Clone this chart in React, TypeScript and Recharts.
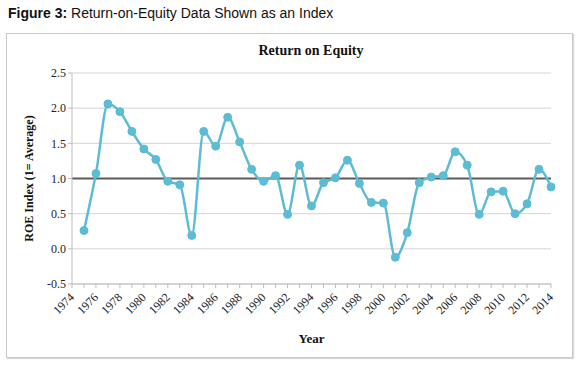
import React from "react";
import {
  LineChart,
  Line,
  XAxis,
  YAxis,
  CartesianGrid,
  ReferenceLine,
} from "recharts";

// ROE index by year (1 = average)
const years = [
  1975, 1976, 1977, 1978, 1979, 1980, 1981, 1982, 1983, 1984, 1985, 1986, 1987,
  1988, 1989, 1990, 1991, 1992, 1993, 1994, 1995, 1996, 1997, 1998, 1999, 2000,
  2001, 2002, 2003, 2004, 2005, 2006, 2007, 2008, 2009, 2010, 2011, 2012, 2013,
  2014,
];
const roeIndex = [
  0.26, 1.07, 2.06, 1.95, 1.67, 1.42, 1.27, 0.96, 0.91, 0.19, 1.67, 1.46, 1.87,
  1.52, 1.13, 0.96, 1.04, 0.49, 1.19, 0.61, 0.94, 1.01, 1.26, 0.93, 0.66, 0.65,
  -0.12, 0.23, 0.94, 1.02, 1.04, 1.38, 1.19, 0.49, 0.81, 0.82, 0.5, 0.64, 1.13,
  0.88,
];
const yearTicks = [
  1974, 1975, 1976, 1977, 1978, 1979, 1980, 1981, 1982, 1983, 1984, 1985, 1986,
  1987, 1988, 1989, 1990, 1991, 1992, 1993, 1994, 1995, 1996, 1997, 1998, 1999,
  2000, 2001, 2002, 2003, 2004, 2005, 2006, 2007, 2008, 2009, 2010, 2011, 2012,
  2013, 2014,
];
const indexTicks = [-0.5, 0, 0.5, 1, 1.5, 2, 2.5];

const data = years.map((year, i) => ({ year, roe: roeIndex[i] }));

const SERIF = '"Liberation Serif", "DejaVu Serif", serif';
const LINE_COLOR = "#5bbcd4";

const YearTick = (props: any) => {
  const { x, y, payload } = props;
  if (payload.value % 2 !== 0) return null;
  return (
    <text
      x={x + 3}
      y={y + 8}
      transform={`rotate(-45, ${x + 3}, ${y + 8})`}
      textAnchor="end"
      fontFamily={SERIF}
      fontSize={12}
      fill="#222"
    >
      {payload.value}
    </text>
  );
};

export default function App() {
  return (
    <div
      style={{
        position: "absolute",
        left: 0,
        top: 0,
        width: 580,
        height: 367,
        background: "#fff",
      }}
    >
      <div
        style={{
          position: "absolute",
          left: 8,
          top: 5,
          fontFamily: '"Liberation Sans", Arial, sans-serif',
          fontSize: 14,
          color: "#111",
        }}
      >
        <b>Figure 3:</b> Return-on-Equity Data Shown as an Index
      </div>
      <div
        style={{
          position: "absolute",
          left: 6,
          top: 33,
          width: 565,
          height: 323,
          border: "1px solid #c8c8c8",
          boxShadow: "1px 1px 1px #d8d8d8",
        }}
      />
      <div style={{ position: "absolute", left: 0, top: 0 }}>
        <LineChart
          width={580}
          height={367}
          data={data}
          margin={{ top: 73, right: 29, bottom: 23, left: 12 }}
        >
          <text
            x={311}
            y={55}
            textAnchor="middle"
            fontFamily={SERIF}
            fontSize={14}
            fontWeight="bold"
            fill="#111"
          >
            Return on Equity
          </text>
          <CartesianGrid vertical={false} stroke="#d4d4d4" strokeWidth={1} />
          <XAxis
            dataKey="year"
            type="number"
            domain={[1974, 2014]}
            ticks={yearTicks}
            interval={0}
            height={60}
            tick={<YearTick />}
            tickSize={4}
            axisLine={{ stroke: "#bdbdbd" }}
            tickLine={{ stroke: "#bdbdbd" }}
            label={{
              value: "Year",
              position: "insideBottom",
              offset: 1,
              style: {
                fontFamily: SERIF,
                fontSize: 13,
                fontWeight: "bold",
                fill: "#111",
              },
            }}
          />
          <YAxis
            type="number"
            domain={[-0.5, 2.5]}
            ticks={indexTicks}
            interval={0}
            width={60}
            tickSize={4}
            tickFormatter={(v: number) => v.toFixed(1)}
            tick={{ fontFamily: SERIF, fontSize: 12, fill: "#222" }}
            axisLine={{ stroke: "#bdbdbd" }}
            tickLine={{ stroke: "#bdbdbd" }}
            label={{
              value: "ROE Index (1= Average)",
              angle: -90,
              position: "insideLeft",
              offset: 17,
              style: {
                textAnchor: "middle",
                fontFamily: SERIF,
                fontSize: 12,
                fontWeight: "bold",
                fill: "#111",
              },
            }}
          />
          <ReferenceLine y={1} stroke="#5a5a5a" strokeWidth={2} />
          <Line
            dataKey="roe"
            type="monotone"
            stroke={LINE_COLOR}
            strokeWidth={2.5}
            dot={{ r: 4, fill: LINE_COLOR, stroke: LINE_COLOR, strokeWidth: 1 }}
            isAnimationActive={false}
          />
        </LineChart>
      </div>
    </div>
  );
}
